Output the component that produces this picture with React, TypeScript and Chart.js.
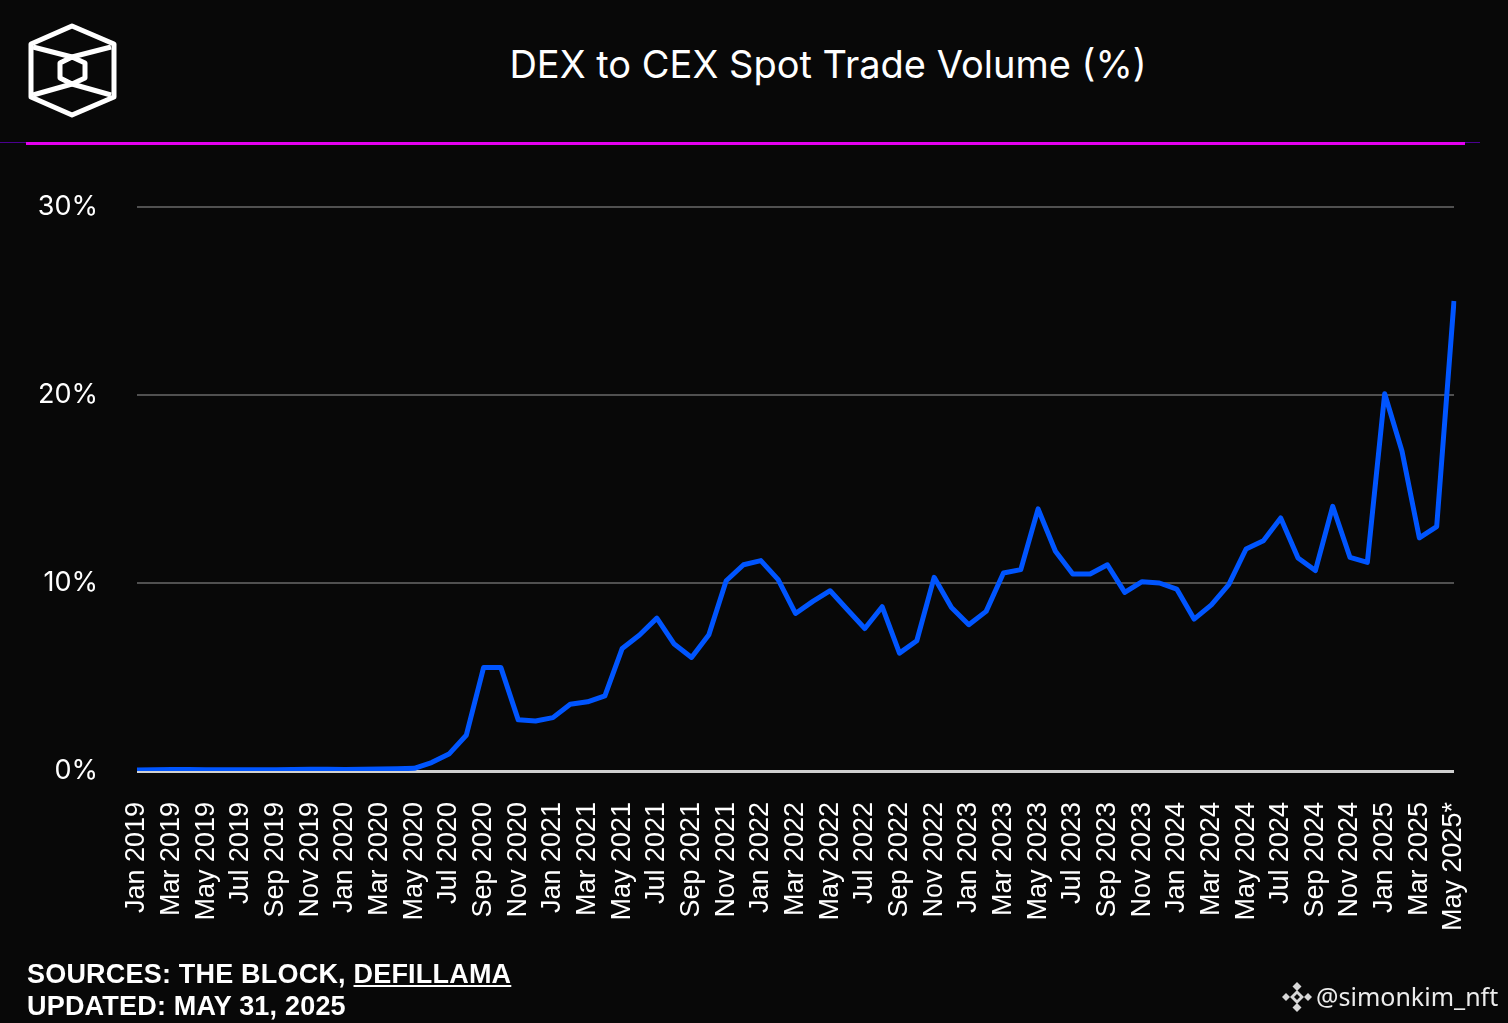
import React, { useEffect, useRef } from "react";
import { Chart, registerables } from "chart.js";

Chart.register(...registerables);

const monthLabels: string[] = [
  "Jan 2019", "Feb 2019", "Mar 2019", "Apr 2019", "May 2019", "Jun 2019", "Jul 2019", "Aug 2019", "Sep 2019", "Oct 2019", "Nov 2019", "Dec 2019",
  "Jan 2020", "Feb 2020", "Mar 2020", "Apr 2020", "May 2020", "Jun 2020", "Jul 2020", "Aug 2020", "Sep 2020", "Oct 2020", "Nov 2020", "Dec 2020",
  "Jan 2021", "Feb 2021", "Mar 2021", "Apr 2021", "May 2021", "Jun 2021", "Jul 2021", "Aug 2021", "Sep 2021", "Oct 2021", "Nov 2021", "Dec 2021",
  "Jan 2022", "Feb 2022", "Mar 2022", "Apr 2022", "May 2022", "Jun 2022", "Jul 2022", "Aug 2022", "Sep 2022", "Oct 2022", "Nov 2022", "Dec 2022",
  "Jan 2023", "Feb 2023", "Mar 2023", "Apr 2023", "May 2023", "Jun 2023", "Jul 2023", "Aug 2023", "Sep 2023", "Oct 2023", "Nov 2023", "Dec 2023",
  "Jan 2024", "Feb 2024", "Mar 2024", "Apr 2024", "May 2024", "Jun 2024", "Jul 2024", "Aug 2024", "Sep 2024", "Oct 2024", "Nov 2024", "Dec 2024",
  "Jan 2025", "Feb 2025", "Mar 2025", "Apr 2025", "May 2025*",
];

const dexToCexPct: number[] = [
  0.05, 0.07, 0.08, 0.08, 0.07, 0.06, 0.07, 0.06, 0.07, 0.08, 0.09, 0.09,
  0.08, 0.09, 0.11, 0.12, 0.14, 0.45, 0.9, 1.9, 5.5, 5.5, 2.72, 2.66,
  2.84, 3.55, 3.68, 4.0, 6.52, 7.23, 8.13, 6.75, 6.04, 7.25, 10.12, 10.97,
  11.19, 10.18, 8.38, 9.02, 9.59, 8.58, 7.58, 8.74, 6.27, 6.93, 10.3, 8.7,
  7.78, 8.49, 10.53, 10.71, 13.94, 11.69, 10.48, 10.48, 10.97, 9.5, 10.07, 10.0,
  9.68, 8.08, 8.84, 9.91, 11.81, 12.25, 13.46, 11.33, 10.66, 14.08, 11.36, 11.1,
  20.07, 17.01, 12.4, 13.0, 25.0,
];

const yTicks: number[] = [0, 10, 20, 30];

const W = 1508;
const H = 1023;

export default function App() {
  const ref = useRef<HTMLCanvasElement | null>(null);

  useEffect(() => {
    document.body.style.margin = "0";
    document.body.style.background = "#080808";
    const canvas = ref.current;
    if (!canvas) return;
    const chart = new Chart(canvas, {
      type: "line",
      data: {
        labels: monthLabels,
        datasets: [
          {
            data: dexToCexPct,
            borderColor: "#0055ff",
            borderWidth: 5,
            pointRadius: 0,
            tension: 0,
            fill: false,
            borderJoinStyle: "round",
          },
        ],
      },
      options: {
        animation: false,
        responsive: false,
        devicePixelRatio: 1,
        layout: { padding: { top: 207, left: 0, right: 54, bottom: 52 } },
        plugins: { legend: { display: false }, tooltip: { enabled: false }, title: { display: false } },
        scales: {
          x: {
            type: "category",
            offset: false,
            grid: { display: false, drawTicks: false },
            border: { display: false },
            ticks: {
              autoSkip: false,
              maxRotation: 90,
              minRotation: 90,
              padding: 31,
              color: "#ffffff",
              font: { family: "'Liberation Sans', Arial, sans-serif", size: 27 },
              callback: (_v: any, i: number) => (i % 2 === 0 ? monthLabels[i] : ""),
            },
            afterFit: (s: any) => {
              s.height = 200;
              s.paddingLeft = 0;
              s.paddingRight = 0;
            },
          },
          y: {
            min: 0,
            max: 30,
            afterBuildTicks: (s: any) => {
              s.ticks = yTicks.map((v) => ({ value: v }));
            },
            grid: {
              drawTicks: false,
              color: (c: any) => (c.tick && c.tick.value === 0 ? "#d0d0d0" : "#505050"),
              lineWidth: (c: any) => (c.tick && c.tick.value === 0 ? 3 : 2),
            },
            border: { display: false },
            ticks: {
              padding: 39,
              color: "#ffffff",
              font: { family: "Inter, 'Noto Sans', sans-serif", size: 27 },
              callback: (v: any) => `${v}%`,
            },
            afterFit: (s: any) => {
              s.width = 137;
              s.paddingTop = 0;
              s.paddingBottom = 0;
            },
          },
        },
      },
    });
    return () => chart.destroy();
  }, []);

  return (
    <div style={{ position: "fixed", left: 0, top: 0, width: W, height: H, background: "#080808", overflow: "hidden" }}>
      <svg width={140} height={140} style={{ position: "absolute", left: 0, top: 0 }}>
        <g fill="none" stroke="#ffffff" strokeWidth={5} strokeLinejoin="round">
          <polygon points="72,26 114,44 114,97 72,115 31,97 31,44" />
          <polyline points="33,47 72,57 111,47" />
          <polyline points="33,95 72,84 111,95" />
          <polygon points="72,57 85,63 85,78 72,84 60,78 60,63" />
        </g>
      </svg>
      <div
        style={{
          position: "absolute",
          left: 828,
          top: 45,
          transform: "translateX(-50%)",
          whiteSpace: "nowrap",
          fontFamily: "Inter, 'Noto Sans', sans-serif",
          fontSize: 38,
          lineHeight: "38px",
          color: "#ffffff",
        }}
      >
        DEX to CEX Spot Trade Volume (%)
      </div>
      <div style={{ position: "absolute", left: 0, top: 142, width: 26, height: 1, background: "#4a0090" }} />
      <div style={{ position: "absolute", left: 26, top: 142, width: 1439, height: 3, background: "#e400f0" }} />
      <div style={{ position: "absolute", left: 1465, top: 142, width: 15, height: 1, background: "#4a0090" }} />
      <canvas ref={ref} width={W} height={H} style={{ position: "absolute", left: 0, top: 0, width: W, height: H }} />
      <div
        style={{
          position: "absolute",
          left: 27,
          top: 958,
          fontFamily: "'Liberation Sans', Arial, sans-serif",
          fontWeight: 700,
          fontSize: 27,
          letterSpacing: "0.2px",
          lineHeight: "32px",
          color: "#ffffff",
          whiteSpace: "nowrap",
        }}
      >
        <div>
          SOURCES: THE BLOCK, <span style={{ textDecoration: "underline" }}>DEFILLAMA</span>
        </div>
        <div>UPDATED: MAY 31, 2025</div>
      </div>
      <svg width={30} height={30} style={{ position: "absolute", left: 1282, top: 982 }}>
        <g fill="#d8d8d8">
          <polygon points="15,8 22,15 15,22 8,15" />
          <polygon points="15,0 19.5,4.5 15,9 10.5,4.5" />
          <polygon points="15,21 19.5,25.5 15,30 10.5,25.5" />
          <polygon points="4,11 8,15 4,19 0,15" />
          <polygon points="26,11 30,15 26,19 22,15" />
        </g>
        <polygon points="15,12 18,15 15,18 12,15" fill="#080808" />
      </svg>
      <div
        style={{
          position: "absolute",
          left: 1316,
          top: 981,
          fontFamily: "'Noto Sans', 'Open Sans', sans-serif",
          fontSize: 25,
          lineHeight: "30px",
          color: "#ececec",
          whiteSpace: "nowrap",
        }}
      >
        @simonkim_nft
      </div>
    </div>
  );
}
